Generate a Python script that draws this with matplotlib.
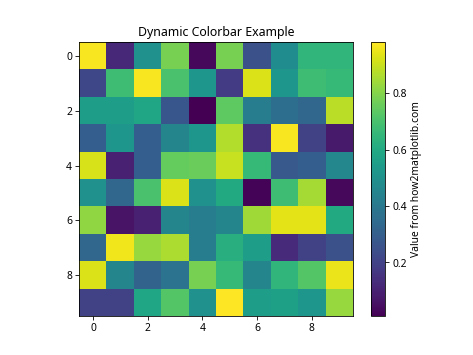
import numpy as np
import matplotlib
matplotlib.use("Agg")
import matplotlib.pyplot as plt

plt.rcParams['font.family'] = ['Noto Sans', 'DejaVu Sans']

data = [
    [0.97, 0.12, 0.50, 0.78, 0.03, 0.78, 0.25, 0.48, 0.65, 0.65],
    [0.22, 0.68, 0.97, 0.70, 0.52, 0.18, 0.93, 0.52, 0.68, 0.66],
    [0.55, 0.55, 0.58, 0.27, 0.01, 0.74, 0.42, 0.36, 0.33, 0.88],
    [0.30, 0.52, 0.30, 0.45, 0.52, 0.87, 0.15, 0.97, 0.20, 0.08],
    [0.92, 0.10, 0.30, 0.75, 0.76, 0.90, 0.66, 0.28, 0.30, 0.46],
    [0.50, 0.33, 0.70, 0.93, 0.50, 0.60, 0.02, 0.68, 0.85, 0.03],
    [0.82, 0.06, 0.10, 0.45, 0.42, 0.45, 0.84, 0.94, 0.94, 0.60],
    [0.33, 0.96, 0.83, 0.86, 0.42, 0.62, 0.55, 0.13, 0.20, 0.25],
    [0.93, 0.45, 0.32, 0.38, 0.78, 0.66, 0.45, 0.65, 0.72, 0.95],
    [0.20, 0.20, 0.58, 0.72, 0.50, 0.98, 0.55, 0.56, 0.52, 0.83],
]
title = "Dynamic Colorbar Example"
cbar_label = "Value from how2matplotlib.com"

fig, ax = plt.subplots(figsize=(6.4, 4.8), dpi=74)
im = ax.imshow(np.array(data), cmap='viridis')
cbar = fig.colorbar(im, ax=ax)
cbar.set_label(cbar_label)
ax.set_title(title)
fig.savefig("out.png", dpi=74)
